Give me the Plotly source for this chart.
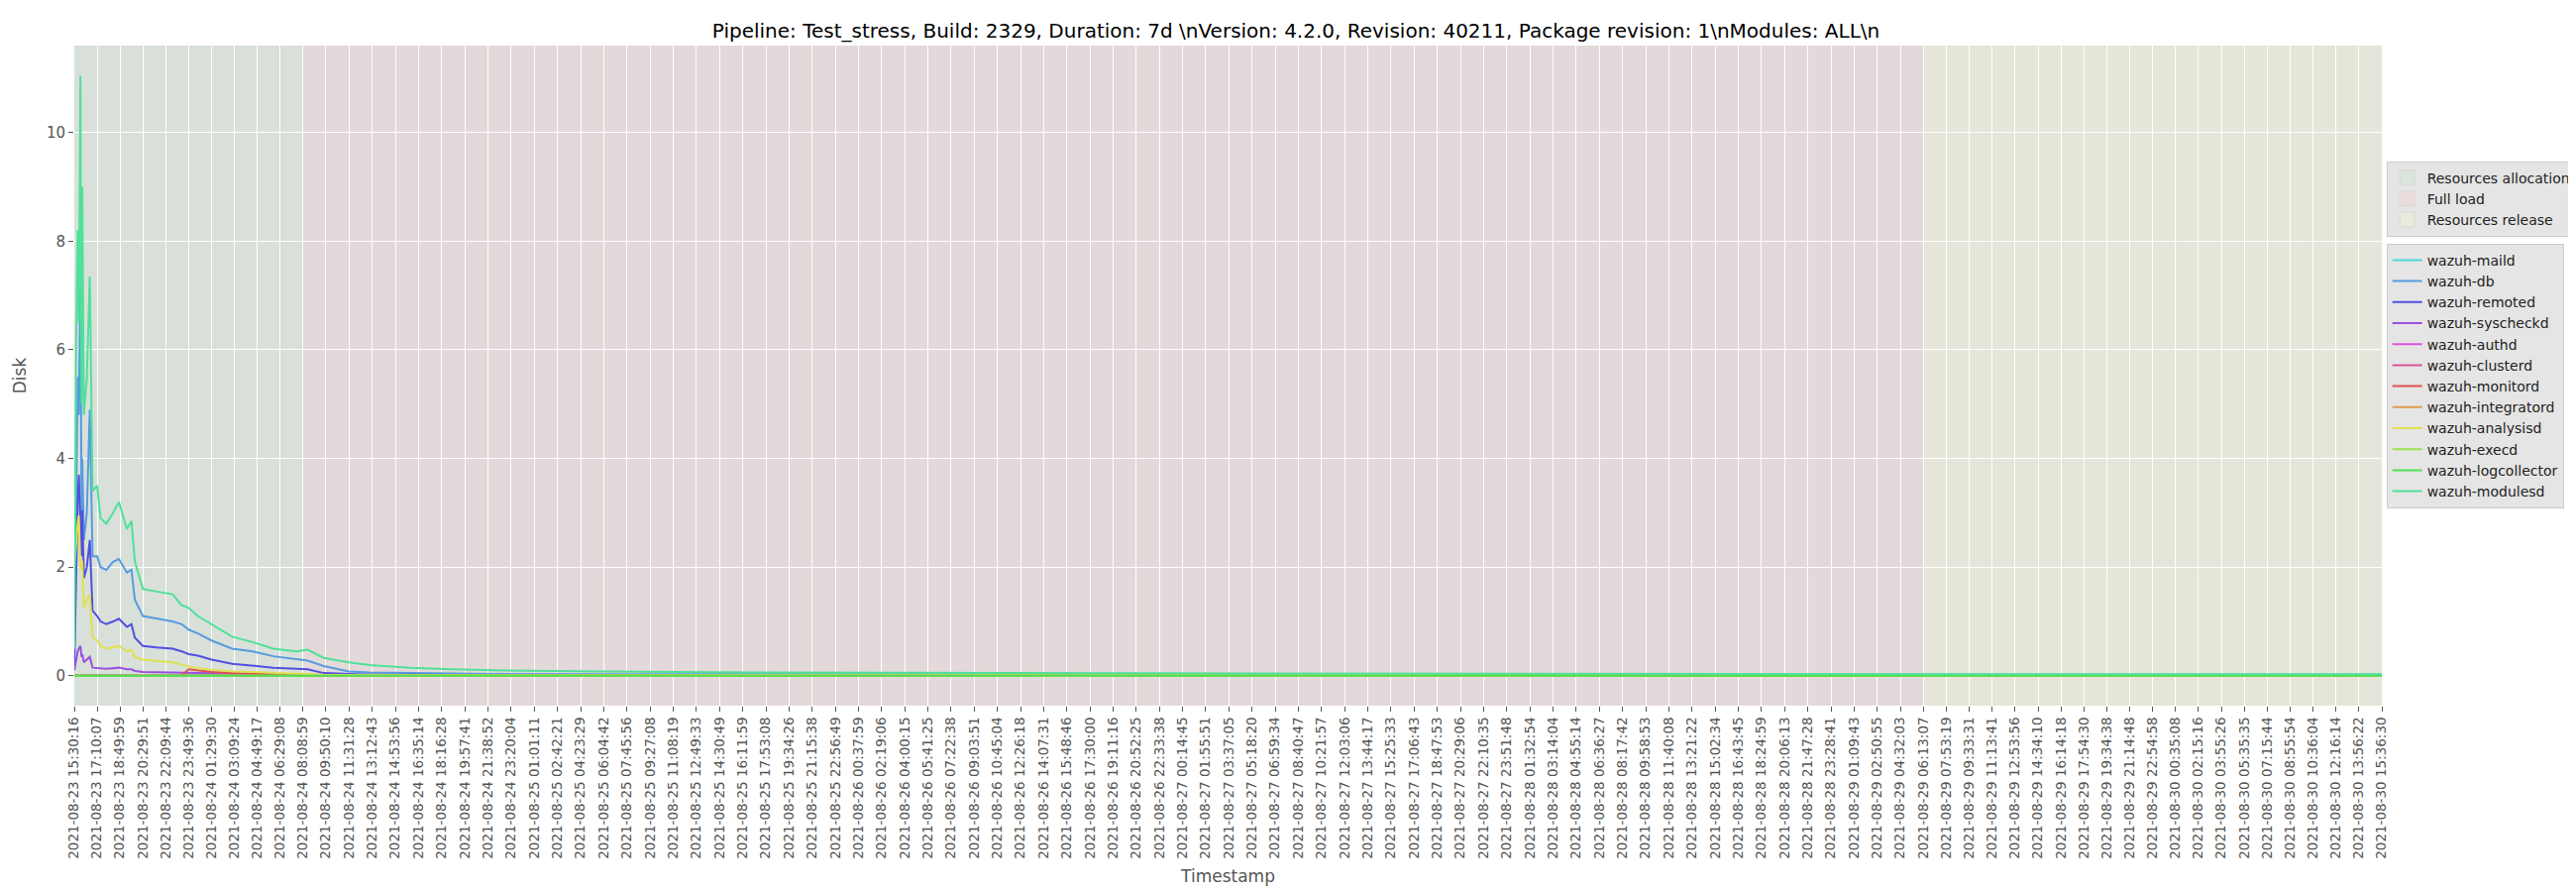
import plotly.graph_objects as go

TITLE = r"Pipeline: Test_stress, Build: 2329, Duration: 7d \nVersion: 4.2.0, Revision: 40211, Package revision: 1\nModules: ALL\n"

tick_times = {
    "2021-08-23": ["15:30:16", "17:10:07", "18:49:59", "20:29:51", "22:09:44", "23:49:36"],
    "2021-08-24": ["01:29:30", "03:09:24", "04:49:17", "06:29:08", "08:08:59", "09:50:10", "11:31:28", "13:12:43",
                   "14:53:56", "16:35:14", "18:16:28", "19:57:41", "21:38:52", "23:20:04"],
    "2021-08-25": ["01:01:11", "02:42:21", "04:23:29", "06:04:42", "07:45:56", "09:27:08", "11:08:19", "12:49:33",
                   "14:30:49", "16:11:59", "17:53:08", "19:34:26", "21:15:38", "22:56:49"],
    "2021-08-26": ["00:37:59", "02:19:06", "04:00:15", "05:41:25", "07:22:38", "09:03:51", "10:45:04", "12:26:18",
                   "14:07:31", "15:48:46", "17:30:00", "19:11:16", "20:52:25", "22:33:38"],
    "2021-08-27": ["00:14:45", "01:55:51", "03:37:05", "05:18:20", "06:59:34", "08:40:47", "10:21:57", "12:03:06",
                   "13:44:17", "15:25:33", "17:06:43", "18:47:53", "20:29:06", "22:10:35", "23:51:48"],
    "2021-08-28": ["01:32:54", "03:14:04", "04:55:14", "06:36:27", "08:17:42", "09:58:53", "11:40:08", "13:21:22",
                   "15:02:34", "16:43:45", "18:24:59", "20:06:13", "21:47:28", "23:28:41"],
    "2021-08-29": ["01:09:43", "02:50:55", "04:32:03", "06:13:07", "07:53:19", "09:33:31", "11:13:41", "12:53:56",
                   "14:34:10", "16:14:18", "17:54:30", "19:34:38", "21:14:48", "22:54:58"],
    "2021-08-30": ["00:35:08", "02:15:16", "03:55:26", "05:35:35", "07:15:44", "08:55:54", "10:36:04", "12:16:14",
                   "13:56:22", "15:36:30"],
}
tick_labels = [f"{d} {t}" for d, ts in tick_times.items() for t in ts]

timestamps = [
    "2021-08-23 15:30:16", "2021-08-23 15:38:00", "2021-08-23 15:45:00", "2021-08-23 15:50:00",
    "2021-08-23 15:57:00", "2021-08-23 16:02:00", "2021-08-23 16:05:00", "2021-08-23 16:12:00",
    "2021-08-23 16:25:00", "2021-08-23 16:38:00", "2021-08-23 16:50:00", "2021-08-23 17:10:00",
    "2021-08-23 17:25:00", "2021-08-23 17:50:00", "2021-08-23 18:20:00", "2021-08-23 18:45:00",
    "2021-08-23 19:20:00", "2021-08-23 19:40:00", "2021-08-23 19:55:00", "2021-08-23 20:30:00",
    "2021-08-23 21:30:00", "2021-08-23 22:40:00", "2021-08-23 23:20:00", "2021-08-23 23:50:00",
    "2021-08-24 00:30:00", "2021-08-24 01:30:00", "2021-08-24 03:00:00", "2021-08-24 04:30:00",
    "2021-08-24 06:00:00", "2021-08-24 07:40:00", "2021-08-24 08:30:00", "2021-08-24 09:40:00",
    "2021-08-24 11:30:00", "2021-08-24 13:00:00", "2021-08-24 16:00:00", "2021-08-24 19:00:00",
    "2021-08-24 22:00:00", "2021-08-25 06:00:00", "2021-08-25 18:00:00", "2021-08-26 12:00:00",
    "2021-08-27 12:00:00", "2021-08-28 12:00:00", "2021-08-29 12:00:00", "2021-08-30 15:36:30",
]
N = len(timestamps)

modulesd = [0.5, 6.0, 8.2, 6.5, 11.05, 5.0, 9.0, 4.8, 5.5, 7.35, 3.4, 3.5, 2.9, 2.8, 3.0, 3.2, 2.7, 2.85, 2.1,
            1.6, 1.55, 1.5, 1.3, 1.25, 1.1, 0.95, 0.72, 0.62, 0.5, 0.45, 0.48, 0.33, 0.25, 0.2, 0.15, 0.12, 0.1,
            0.08, 0.06, 0.05, 0.04, 0.035, 0.03, 0.03]
db = [0.3, 3.5, 5.5, 4.8, 7.2, 3.0, 4.0, 2.5, 3.0, 4.9, 2.2, 2.2, 2.0, 1.95, 2.1, 2.15, 1.9, 1.95, 1.4, 1.1, 1.05,
      1.0, 0.95, 0.85, 0.78, 0.65, 0.5, 0.45, 0.36, 0.3, 0.28, 0.18, 0.08, 0.06, 0.05, 0.04, 0.035, 0.03, 0.025,
      0.02, 0.02, 0.02, 0.02, 0.02]
remoted = [0.2, 2.0, 3.2, 3.7, 3.0, 2.2, 3.05, 1.8, 2.0, 2.5, 1.2, 1.1, 1.0, 0.95, 1.0, 1.05, 0.9, 0.95, 0.7, 0.55,
           0.52, 0.5, 0.45, 0.4, 0.37, 0.3, 0.22, 0.18, 0.15, 0.13, 0.12, 0.05, 0.03, 0.02, 0.02, 0.01, 0.01, 0.01,
           0.01, 0.01, 0.01, 0.01, 0.01, 0.01]
analysisd = [2.0, 2.5, 2.8, 2.95, 1.95, 2.1, 2.1, 1.25, 1.4, 1.5, 0.7, 0.65, 0.55, 0.5, 0.52, 0.55, 0.45, 0.48, 0.35,
             0.3, 0.27, 0.25, 0.2, 0.17, 0.14, 0.11, 0.08, 0.07, 0.05, 0.04, 0.035, 0.02, 0.015, 0.01, 0.01, 0.01,
             0.01, 0.01, 0.01, 0.01, 0.01, 0.01, 0.01, 0.01]
syscheckd = [0.1, 0.3, 0.45, 0.5, 0.55, 0.35, 0.4, 0.25, 0.3, 0.35, 0.15, 0.14, 0.13, 0.13, 0.14, 0.15, 0.12, 0.12,
             0.09, 0.07, 0.065, 0.06, 0.055, 0.05, 0.045, 0.04, 0.035, 0.03, 0.03, 0.025, 0.02, 0.02, 0.015, 0.015,
             0.015, 0.015, 0.015, 0.015, 0.015, 0.015, 0.015, 0.015, 0.015, 0.015]
monitord = [0.0] * 23 + [0.12, 0.1, 0.07, 0.05, 0.035, 0.025, 0.02, 0.015, 0.01, 0.005] + [0.0] * 11
zeros = [0.0] * N

series = [
    ("wazuh-maild", zeros, "#4fd8d8"),
    ("wazuh-db", db, "#579be0"),
    ("wazuh-remoted", remoted, "#5050e0"),
    ("wazuh-syscheckd", syscheckd, "#9a50e0"),
    ("wazuh-authd", zeros, "#e050e0"),
    ("wazuh-clusterd", zeros, "#e0509a"),
    ("wazuh-monitord", monitord, "#e05050"),
    ("wazuh-integratord", zeros, "#e09a50"),
    ("wazuh-analysisd", analysisd, "#e0e050"),
    ("wazuh-execd", zeros, "#9ae050"),
    ("wazuh-logcollector", zeros, "#50e050"),
    ("wazuh-modulesd", modulesd, "#50e09a"),
]

phases = [
    ("Resources allocation", "2021-08-23 15:30:16", "2021-08-24 08:10:00", "#d8e0d9", "#dbe4dd"),
    ("Full load", "2021-08-24 08:10:00", "2021-08-29 06:14:00", "#e4d9da", "#eadcdd"),
    ("Resources release", "2021-08-29 06:14:00", "2021-08-30 15:36:30", "#e5e5d9", "#ebebdc"),
]

fig = go.Figure()
for name, vals, col in series:
    fig.add_trace(go.Scatter(x=timestamps, y=vals, mode="lines", name=name,
                             line=dict(color=col, width=2), legend="legend2"))

for name, x0, x1, col, sw in phases:
    fig.add_shape(type="rect", xref="x", yref="paper", x0=x0, x1=x1, y0=0, y1=1,
                  fillcolor=col, line=dict(width=0), layer="below")
    fig.add_trace(go.Scatter(x=[timestamps[0]], y=[None], mode="markers", name=name, legend="legend",
                             marker=dict(symbol="square", size=15, color=sw,
                                         line=dict(color="#d8d8d8", width=1))))

legend_common = dict(xanchor="left", yanchor="top", bgcolor="#e5e5e5",
                     bordercolor="#cccccc", borderwidth=1, font=dict(size=14, color="#222222"),
                     tracegroupgap=0, itemwidth=30)

fig.update_layout(
    width=2600, height=900,
    paper_bgcolor="white", plot_bgcolor="#e5e5e5",
    margin=dict(l=67, r=204, t=38, b=196, autoexpand=False),
    font=dict(family="DejaVu Sans", color="#555555", size=14),
    title=dict(text=TITLE, x=0.5, xanchor="center", y=0.975, yanchor="middle",
               font=dict(size=20, color="black")),
    xaxis=dict(type="date", range=[tick_labels[0], tick_labels[-1]], tickvals=tick_labels, ticktext=tick_labels,
               tickangle=-90, showgrid=True, gridcolor="white", gridwidth=1, ticks="outside",
               ticklen=5, tickcolor="#555555", tickfont=dict(size=13.5), automargin=False,
               title=dict(text="Timestamp", font=dict(size=17), standoff=12),
               zeroline=False, showline=False),
    yaxis=dict(range=[-0.55, 11.6], tickvals=[0, 2, 4, 6, 8, 10], showgrid=True, gridcolor="white",
               gridwidth=1, ticks="outside", ticklen=5, tickcolor="#555555", tickfont=dict(size=15),
               automargin=False, title=dict(text="Disk", font=dict(size=17)), zeroline=False),
    legend=dict(x=1.002, y=0.825, **legend_common),
    legend2=dict(x=1.002, y=0.70, **legend_common),
)

fig.write_html("out.html")
